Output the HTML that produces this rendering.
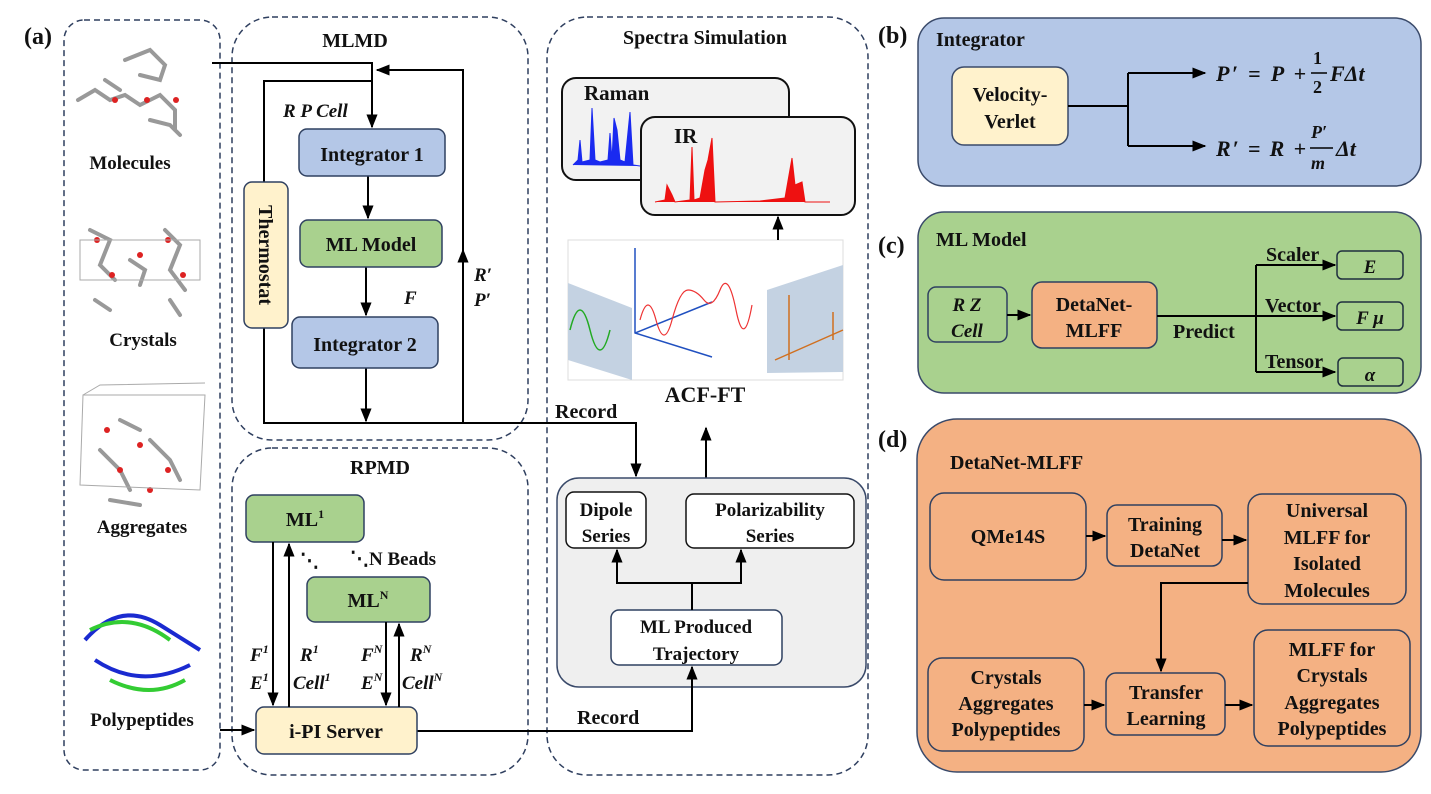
<!DOCTYPE html>
<html><head><meta charset="utf-8"><style>
html,body{margin:0;padding:0;background:#fff;}
svg{display:block;}
text{font-family:"Liberation Serif",serif;font-weight:bold;fill:#111;}
.it{font-style:italic;}
</style></head><body>
<svg width="1431" height="794" viewBox="0 0 1431 794" xmlns="http://www.w3.org/2000/svg">
<defs>
<marker id="ar" viewBox="0 0 10 10" refX="9" refY="5" markerWidth="7" markerHeight="7" orient="auto-start-reverse"><path d="M0,1 L10,5 L0,9 z" fill="#000"/></marker>
</defs>
<g fill="none" stroke="#2f3f5f" stroke-width="1.5" stroke-dasharray="6,4">
<rect x="64" y="20" width="156" height="750" rx="20"/>
<rect x="232" y="17" width="296" height="423" rx="40"/>
<rect x="232" y="448" width="296" height="327" rx="40"/>
<rect x="547" y="17" width="321" height="758" rx="40"/>
</g>
<text x="24" y="44" font-size="24">(a)</text>
<text x="355" y="47" font-size="20" text-anchor="middle">MLMD</text>
<text x="705" y="44" font-size="20" text-anchor="middle">Spectra Simulation</text>
<text x="380" y="474" font-size="20" text-anchor="middle">RPMD</text>

<g stroke="#999" stroke-width="4" stroke-linecap="round" fill="none">
<path d="M78,100 L95,90 L110,100 L125,95 L140,105 L160,95 L175,110 L175,130 M125,60 L150,50 L165,65 L160,80 L140,75 M150,120 L170,125 L180,135 M105,80 L120,90"/>
<path d="M90,230 L110,240 L100,265 L115,280 M165,230 L180,245 L170,270 L185,290 M130,260 L145,270 L140,285 M95,300 L110,310 M170,300 L180,315"/>
<path d="M100,450 L120,470 L130,490 M150,440 L170,460 L180,480 M110,500 L140,505 M120,420 L140,430"/>
</g>
<g fill="#d22">
<circle cx="115" cy="100" r="3"/><circle cx="147" cy="100" r="3"/><circle cx="176" cy="100" r="3"/>
<circle cx="97" cy="240" r="3"/><circle cx="112" cy="275" r="3"/><circle cx="168" cy="240" r="3"/><circle cx="183" cy="275" r="3"/><circle cx="140" cy="255" r="3"/>
<circle cx="107" cy="430" r="3"/><circle cx="140" cy="445" r="3"/><circle cx="168" cy="470" r="3"/><circle cx="120" cy="470" r="3"/><circle cx="150" cy="490" r="3"/>
</g>
<g fill="none" stroke="#aaa" stroke-width="1"><rect x="80" y="240" width="120" height="40"/><path d="M83,395 L205,395 L200,490 L80,485 Z M83,395 L100,385 L205,383"/></g>
<g fill="none" stroke-width="4"><path d="M85,640 Q120,600 160,625 T200,650 M95,660 Q140,690 190,665" stroke="#1a2ad0"/><path d="M90,630 Q130,610 170,640 M110,680 Q150,700 185,680" stroke="#3c3"/></g>
<text x="130" y="169" font-size="19" text-anchor="middle">Molecules</text>
<text x="143" y="346" font-size="19" text-anchor="middle">Crystals</text>
<text x="142" y="533" font-size="19" text-anchor="middle">Aggregates</text>
<text x="142" y="726" font-size="19" text-anchor="middle">Polypeptides</text>

<g stroke="#000" stroke-width="2" fill="none">
<path d="M212,63 L372,63 L372,127" marker-end="url(#ar)"/>
<path d="M264,182 L264,81 L372,81"/>
<path d="M463,423 L463,70 L377,70" marker-end="url(#ar)"/>
<path d="M463,300 L463,250" marker-end="url(#ar)"/>
<path d="M264,328 L264,423 L636,423 L636,476" marker-end="url(#ar)"/>
<path d="M366,368 L366,421" marker-end="url(#ar)"/>
<path d="M368,176 L368,218" marker-end="url(#ar)"/>
<path d="M366,267 L366,315" marker-end="url(#ar)"/>
</g>
<g stroke="#2f4060" stroke-width="1.5">
<rect x="299" y="129" width="146" height="47" rx="8" fill="#b4c7e7"/>
<rect x="300" y="220" width="142" height="47" rx="8" fill="#a9d18e"/>
<rect x="292" y="317" width="146" height="51" rx="8" fill="#b4c7e7"/>
<rect x="244" y="182" width="44" height="146" rx="8" fill="#fff2cc"/>
</g>
<text x="372" y="161" font-size="20" text-anchor="middle">Integrator 1</text>
<text x="371" y="251" font-size="20" text-anchor="middle">ML Model</text>
<text x="365" y="351" font-size="20" text-anchor="middle">Integrator 2</text>
<text transform="translate(259,255) rotate(90)" font-size="20" text-anchor="middle">Thermostat</text>
<text x="283" y="117" font-size="19" class="it">R  P  Cell</text>
<text x="404" y="304" font-size="19" class="it">F</text>
<text x="474" y="281" font-size="19" class="it">R′</text>
<text x="474" y="306" font-size="19" class="it">P′</text>

<rect x="562" y="78" width="227" height="102" rx="14" fill="#f2f2f2" stroke="#111" stroke-width="2"/>
<text x="584" y="100" font-size="21">Raman</text>
<polyline fill="#1a2af0" stroke="#1a2af0" points="573,165 578,160 580,140 582,162 590,160 592,108 595,160 600,162 608,160 610,133 612,160 614,118 617,130 620,160 625,162 630,112 633,165 640,166"/>
<rect x="641" y="117" width="214" height="98" rx="14" fill="#f2f2f2" stroke="#111" stroke-width="2"/>
<text x="674" y="143" font-size="21">IR</text>
<polyline fill="#e11" stroke="#e11" points="655,202 665,200 667,185 672,195 675,202 690,200 692,147 694,200 700,198 705,170 708,160 712,138 715,202 760,201 785,198 792,158 795,185 802,182 805,202 830,202"/>
<rect x="568" y="240" width="275" height="140" fill="#fff" stroke="#ddd"/>
<path d="M568,283 L632,308 L632,380 L568,360 Z" fill="#c4d2e2"/>
<path d="M767,290 L843,265 L843,372 L767,373 Z" fill="#c4d2e2"/>
<path d="M635,248 L635,333 L712,357 M635,333 L712,302" stroke="#2050c0" stroke-width="1.5" fill="none"/>
<path d="M640,320 q8,-30 16,0 t16,0 t16,-30 t16,10 t16,-10 t16,20 t16,-5" stroke="#e33" fill="none" stroke-width="1.2"/>
<path d="M570,330 q10,-40 20,0 t20,0" stroke="#2a2" fill="none" stroke-width="1.5"/>
<path d="M775,360 L843,330 M789,360 L789,295 M833,340 L833,312" stroke="#d07020" stroke-width="1.5" fill="none"/>
<text x="705" y="402" font-size="22" text-anchor="middle">ACF-FT</text>
<g stroke="#000" stroke-width="2" fill="none">
<path d="M778,240 L778,217" marker-end="url(#ar)"/>
<path d="M706,478 L706,428" marker-end="url(#ar)"/>
</g>
<text x="555" y="418" font-size="20">Record</text>
<rect x="557" y="478" width="309" height="209" rx="22" fill="#efefef" stroke="#3a4a6a" stroke-width="1.5"/>
<rect x="566" y="492" width="80" height="56" rx="8" fill="#fff" stroke="#111" stroke-width="1.5"/>
<rect x="686" y="494" width="168" height="54" rx="8" fill="#fff" stroke="#111" stroke-width="1.5"/>
<rect x="611" y="610" width="171" height="55" rx="8" fill="#fff" stroke="#2f4060" stroke-width="1.5"/>
<text x="606" y="516" font-size="19" text-anchor="middle">Dipole</text>
<text x="606" y="542" font-size="19" text-anchor="middle">Series</text>
<text x="770" y="516" font-size="19" text-anchor="middle">Polarizability</text>
<text x="770" y="542" font-size="19" text-anchor="middle">Series</text>
<text x="696" y="633" font-size="19" text-anchor="middle">ML Produced</text>
<text x="696" y="660" font-size="19" text-anchor="middle">Trajectory</text>
<g stroke="#000" stroke-width="2" fill="none">
<path d="M692,610 L692,583 M617,583 L741,583"/>
<path d="M617,584 L617,550" marker-end="url(#ar)"/>
<path d="M741,584 L741,550" marker-end="url(#ar)"/>
<path d="M417,731 L692,731 L692,667" marker-end="url(#ar)"/>
<path d="M220,730 L254,730" marker-end="url(#ar)"/>
</g>
<text x="577" y="724" font-size="20">Record</text>

<g stroke="#2f4060" stroke-width="1.5">
<rect x="246" y="495" width="118" height="47" rx="8" fill="#a9d18e"/>
<rect x="307" y="577" width="123" height="45" rx="8" fill="#a9d18e"/>
<rect x="256" y="707" width="161" height="47" rx="8" fill="#fff2cc"/>
</g>
<text x="305" y="526" font-size="20" text-anchor="middle">ML<tspan font-size="12" dy="-8">1</tspan></text>
<text x="368" y="607" font-size="20" text-anchor="middle">ML<tspan font-size="12" dy="-8">N</tspan></text>
<text x="336" y="738" font-size="20" text-anchor="middle">i-PI Server</text>
<text x="300" y="567" font-size="19">⋱</text>
<text x="350" y="565" font-size="19">⋱N Beads</text>
<g stroke="#000" stroke-width="2" fill="none">
<path d="M273,542 L273,705" marker-end="url(#ar)"/>
<path d="M289,707 L289,544" marker-end="url(#ar)"/>
<path d="M386,622 L386,705" marker-end="url(#ar)"/>
<path d="M399,707 L399,624" marker-end="url(#ar)"/>
</g>
<g font-size="19">
<text x="250" y="661" class="it">F<tspan font-size="12" dy="-8">1</tspan></text>
<text x="250" y="689" class="it">E<tspan font-size="12" dy="-8">1</tspan></text>
<text x="300" y="661" class="it">R<tspan font-size="12" dy="-8">1</tspan></text>
<text x="293" y="689" class="it">Cell<tspan font-size="12" dy="-8">1</tspan></text>
<text x="361" y="661" class="it">F<tspan font-size="12" dy="-8">N</tspan></text>
<text x="361" y="689" class="it">E<tspan font-size="12" dy="-8">N</tspan></text>
<text x="410" y="661" class="it">R<tspan font-size="12" dy="-8">N</tspan></text>
<text x="402" y="689" class="it">Cell<tspan font-size="12" dy="-8">N</tspan></text>
</g>

<text x="878" y="43" font-size="24">(b)</text>
<rect x="918" y="18" width="503" height="168" rx="26" fill="#b4c7e7" stroke="#3a4a6a" stroke-width="1.5"/>
<text x="936" y="46" font-size="20">Integrator</text>
<rect x="952" y="67" width="116" height="78" rx="12" fill="#fff2cc" stroke="#3a4a6a" stroke-width="1.5"/>
<text x="1010" y="101" font-size="20" text-anchor="middle">Velocity-</text>
<text x="1010" y="128" font-size="20" text-anchor="middle">Verlet</text>
<g stroke="#000" stroke-width="2" fill="none">
<path d="M1068,106 L1128,106 M1128,73 L1128,146"/>
<path d="M1128,73 L1205,73" marker-end="url(#ar)"/>
<path d="M1128,146 L1205,146" marker-end="url(#ar)"/>
</g>
<g font-size="22">
<text x="1216" y="81" class="it" textLength="90">P′ = P +</text>
<text x="1313" y="64" font-size="18">1</text>
<line x1="1311" y1="73" x2="1327" y2="73" stroke="#000" stroke-width="1.5"/>
<text x="1313" y="93" font-size="18">2</text>
<text x="1330" y="81" class="it">FΔt</text>
<text x="1216" y="156" class="it" textLength="90">R′ = R +</text>
<text x="1311" y="138" font-size="18" class="it">P′</text>
<line x1="1310" y1="148" x2="1333" y2="148" stroke="#000" stroke-width="1.5"/>
<text x="1311" y="169" font-size="18" class="it">m</text>
<text x="1336" y="156" class="it">Δt</text>
</g>

<text x="878" y="253" font-size="24">(c)</text>
<rect x="918" y="212" width="503" height="181" rx="26" fill="#a9d18e" stroke="#3a4a6a" stroke-width="1.5"/>
<text x="936" y="246" font-size="20">ML Model</text>
<rect x="928" y="287" width="79" height="55" rx="8" fill="#a9d18e" stroke="#2f4060" stroke-width="1.5"/>
<text x="967" y="311" font-size="19" text-anchor="middle" class="it">R  Z</text>
<text x="967" y="337" font-size="19" text-anchor="middle" class="it">Cell</text>
<rect x="1032" y="282" width="125" height="66" rx="10" fill="#f4b183" stroke="#2f4060" stroke-width="1.5"/>
<text x="1094" y="311" font-size="20" text-anchor="middle">DetaNet-</text>
<text x="1094" y="337" font-size="20" text-anchor="middle">MLFF</text>
<g stroke="#000" stroke-width="2" fill="none">
<path d="M1007,315 L1030,315" marker-end="url(#ar)"/>
<path d="M1157,316 L1335,316" marker-end="url(#ar)"/>
<path d="M1256,265 L1256,372"/>
<path d="M1256,265 L1335,265" marker-end="url(#ar)"/>
<path d="M1256,372 L1335,372" marker-end="url(#ar)"/>
</g>
<text x="1173" y="338" font-size="20">Predict</text>
<text x="1266" y="261" font-size="20">Scaler</text>
<text x="1265" y="312" font-size="20">Vector</text>
<text x="1265" y="368" font-size="20">Tensor</text>
<g fill="#a9d18e" stroke="#1f2f3f" stroke-width="1.5">
<rect x="1337" y="251" width="66" height="28" rx="5"/>
<rect x="1337" y="302" width="66" height="28" rx="5"/>
<rect x="1338" y="358" width="65" height="28" rx="5"/>
</g>
<text x="1370" y="273" font-size="19" text-anchor="middle" class="it">E</text>
<text x="1370" y="324" font-size="19" text-anchor="middle" class="it">F  μ</text>
<text x="1370" y="381" font-size="19" text-anchor="middle" class="it">α</text>

<text x="878" y="447" font-size="24">(d)</text>
<rect x="917" y="419" width="504" height="353" rx="40" fill="#f4b183" stroke="#3a4a6a" stroke-width="1.5"/>
<text x="950" y="469" font-size="20">DetaNet-MLFF</text>
<g fill="#f4b183" stroke="#2f4060" stroke-width="1.5">
<rect x="930" y="493" width="156" height="87" rx="14"/>
<rect x="1107" y="505" width="115" height="61" rx="10"/>
<rect x="1248" y="494" width="158" height="110" rx="14"/>
<rect x="928" y="658" width="156" height="93" rx="14"/>
<rect x="1106" y="673" width="119" height="62" rx="10"/>
<rect x="1254" y="630" width="156" height="116" rx="14"/>
</g>
<g font-size="20" text-anchor="middle">
<text x="1008" y="543">QMe14S</text>
<text x="1165" y="531">Training</text>
<text x="1165" y="557">DetaNet</text>
<text x="1327" y="517">Universal</text>
<text x="1327" y="544">MLFF for</text>
<text x="1327" y="570">Isolated</text>
<text x="1327" y="597">Molecules</text>
<text x="1006" y="684">Crystals</text>
<text x="1006" y="710">Aggregates</text>
<text x="1006" y="736">Polypeptides</text>
<text x="1166" y="699">Transfer</text>
<text x="1166" y="725">Learning</text>
<text x="1332" y="656">MLFF for</text>
<text x="1332" y="682">Crystals</text>
<text x="1332" y="709">Aggregates</text>
<text x="1332" y="735">Polypeptides</text>
</g>
<g stroke="#000" stroke-width="2" fill="none">
<path d="M1086,536 L1105,536" marker-end="url(#ar)"/>
<path d="M1222,540 L1246,540" marker-end="url(#ar)"/>
<path d="M1248,583 L1161,583 L1161,671" marker-end="url(#ar)"/>
<path d="M1084,705 L1104,705" marker-end="url(#ar)"/>
<path d="M1225,705 L1252,705" marker-end="url(#ar)"/>
</g>
</svg>
</body></html>
